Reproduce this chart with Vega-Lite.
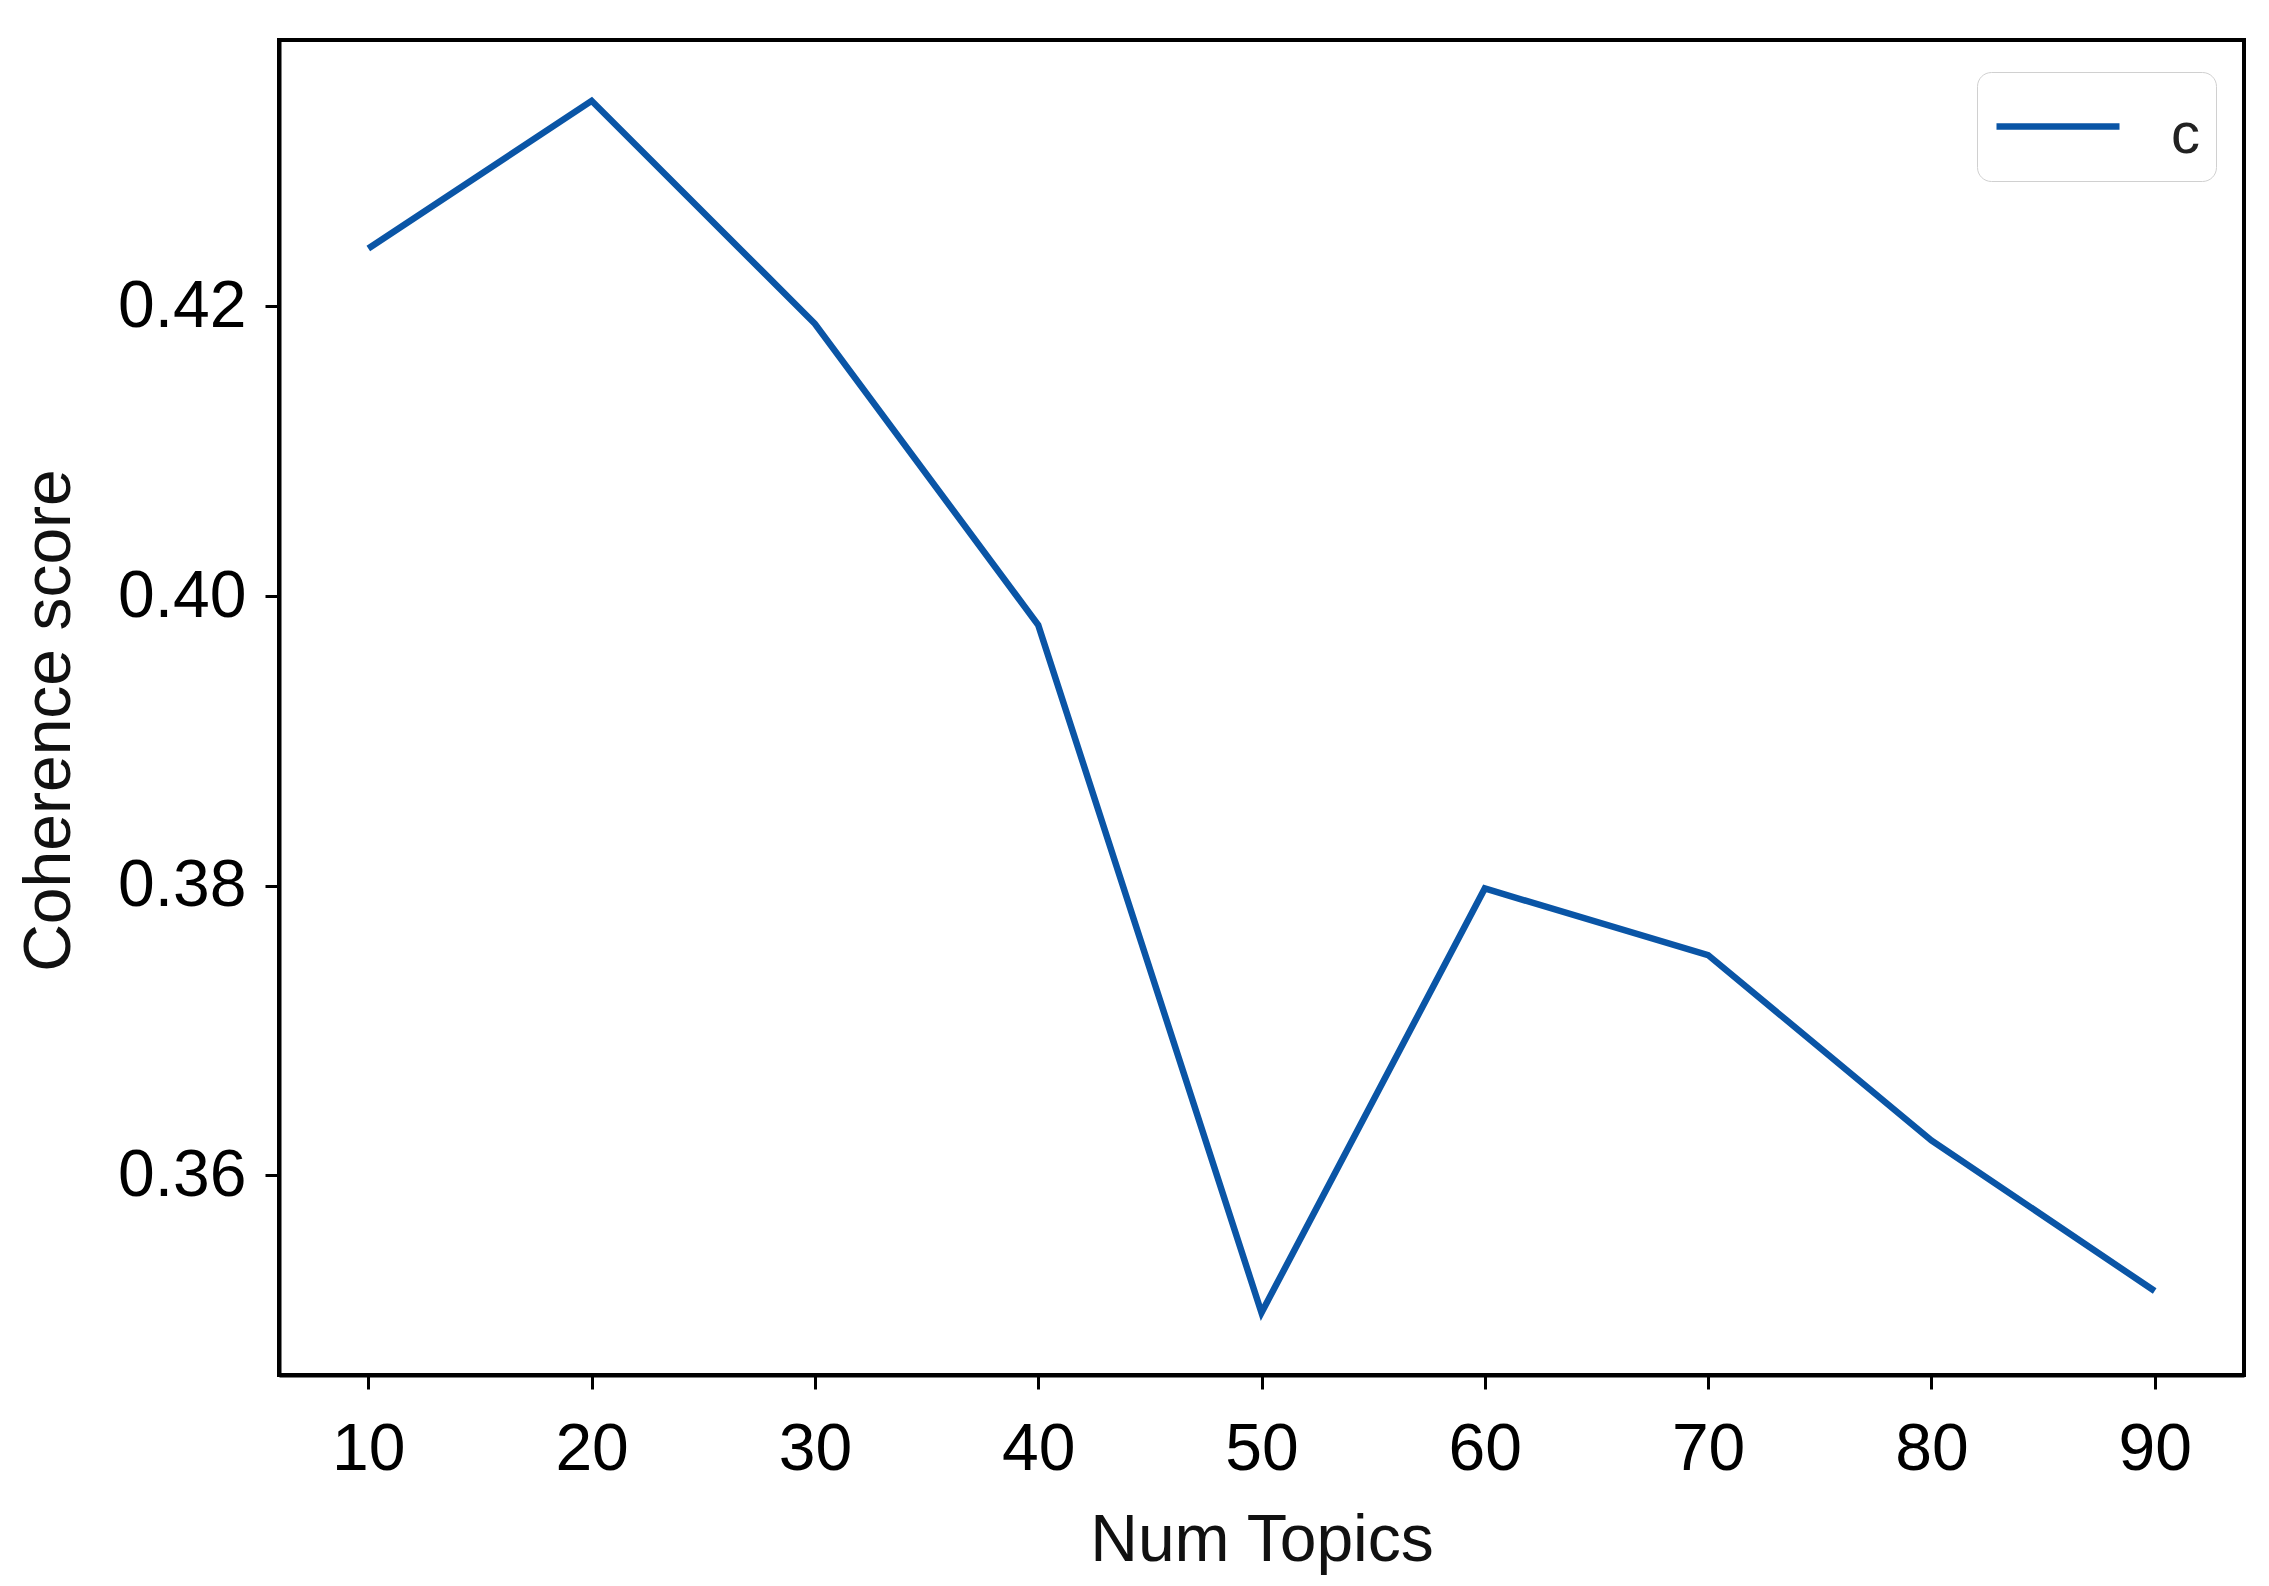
{
  "$schema": "https://vega.github.io/schema/vega-lite/v6.json",
  "width": 1965,
  "height": 1335,
  "autosize": {"type": "none"},
  "padding": {"left": 279, "top": 40, "right": 25, "bottom": 211},
  "background": "white",
  "config": {
    "font": "Liberation Sans",
    "view": {"stroke": "black", "strokeWidth": 4},
    "axis": {
      "domainColor": "black",
      "domainWidth": 4,
      "tickColor": "black",
      "tickWidth": 3,
      "tickSize": 14,
      "grid": false,
      "labelFont": "Liberation Sans",
      "labelFontSize": 66,
      "labelColor": "black",
      "titleFont": "Liberation Sans",
      "titleFontSize": 66,
      "titleFontWeight": "normal",
      "titleColor": "#111111"
    }
  },
  "data": {
    "values": [
      {"num_topics": 10, "coherence": 0.4240, "series": "c"},
      {"num_topics": 20, "coherence": 0.4342, "series": "c"},
      {"num_topics": 30, "coherence": 0.4188, "series": "c"},
      {"num_topics": 40, "coherence": 0.3980, "series": "c"},
      {"num_topics": 50, "coherence": 0.3505, "series": "c"},
      {"num_topics": 60, "coherence": 0.3798, "series": "c"},
      {"num_topics": 70, "coherence": 0.3752, "series": "c"},
      {"num_topics": 80, "coherence": 0.3624, "series": "c"},
      {"num_topics": 90, "coherence": 0.3520, "series": "c"}
    ]
  },
  "mark": {"type": "line", "strokeWidth": 6.5, "clip": true},
  "encoding": {
    "x": {
      "field": "num_topics",
      "type": "quantitative",
      "title": "Num Topics",
      "scale": {"domain": [6, 94], "nice": false, "zero": false},
      "axis": {
        "values": [10, 20, 30, 40, 50, 60, 70, 80, 90],
        "labelBaseline": "alphabetic",
        "labelPadding": 80,
        "labelFlush": false,
        "titleY": 185,
        "titleBaseline": "alphabetic"
      }
    },
    "y": {
      "field": "coherence",
      "type": "quantitative",
      "title": "Coherence score",
      "scale": {"domain": [0.3462, 0.4384], "nice": false, "zero": false},
      "axis": {
        "values": [0.36, 0.38, 0.40, 0.42],
        "format": ".2f",
        "labelPadding": 19,
        "labelBaseline": "middle",
        "labelFlush": false,
        "titleAngle": -90,
        "titleX": -210,
        "titleY": 680,
        "titleAlign": "center",
        "titleBaseline": "alphabetic"
      }
    },
    "color": {
      "field": "series",
      "type": "nominal",
      "scale": {"domain": ["c"], "range": ["#0a55a6"]},
      "legend": {
        "title": null,
        "orient": "none",
        "legendX": 1698,
        "legendY": 32,
        "symbolType": "M-1,-0.43L1,-0.43",
        "symbolSize": 15129,
        "symbolStrokeWidth": 6.5,
        "labelFontSize": 58,
        "labelFont": "Liberation Sans",
        "labelColor": "#222222",
        "labelBaseline": "alphabetic",
        "labelOffset": 48,
        "padding": 16,
        "strokeColor": "#d0d0d0",
        "fillColor": "white",
        "cornerRadius": 14
      }
    }
  }
}
